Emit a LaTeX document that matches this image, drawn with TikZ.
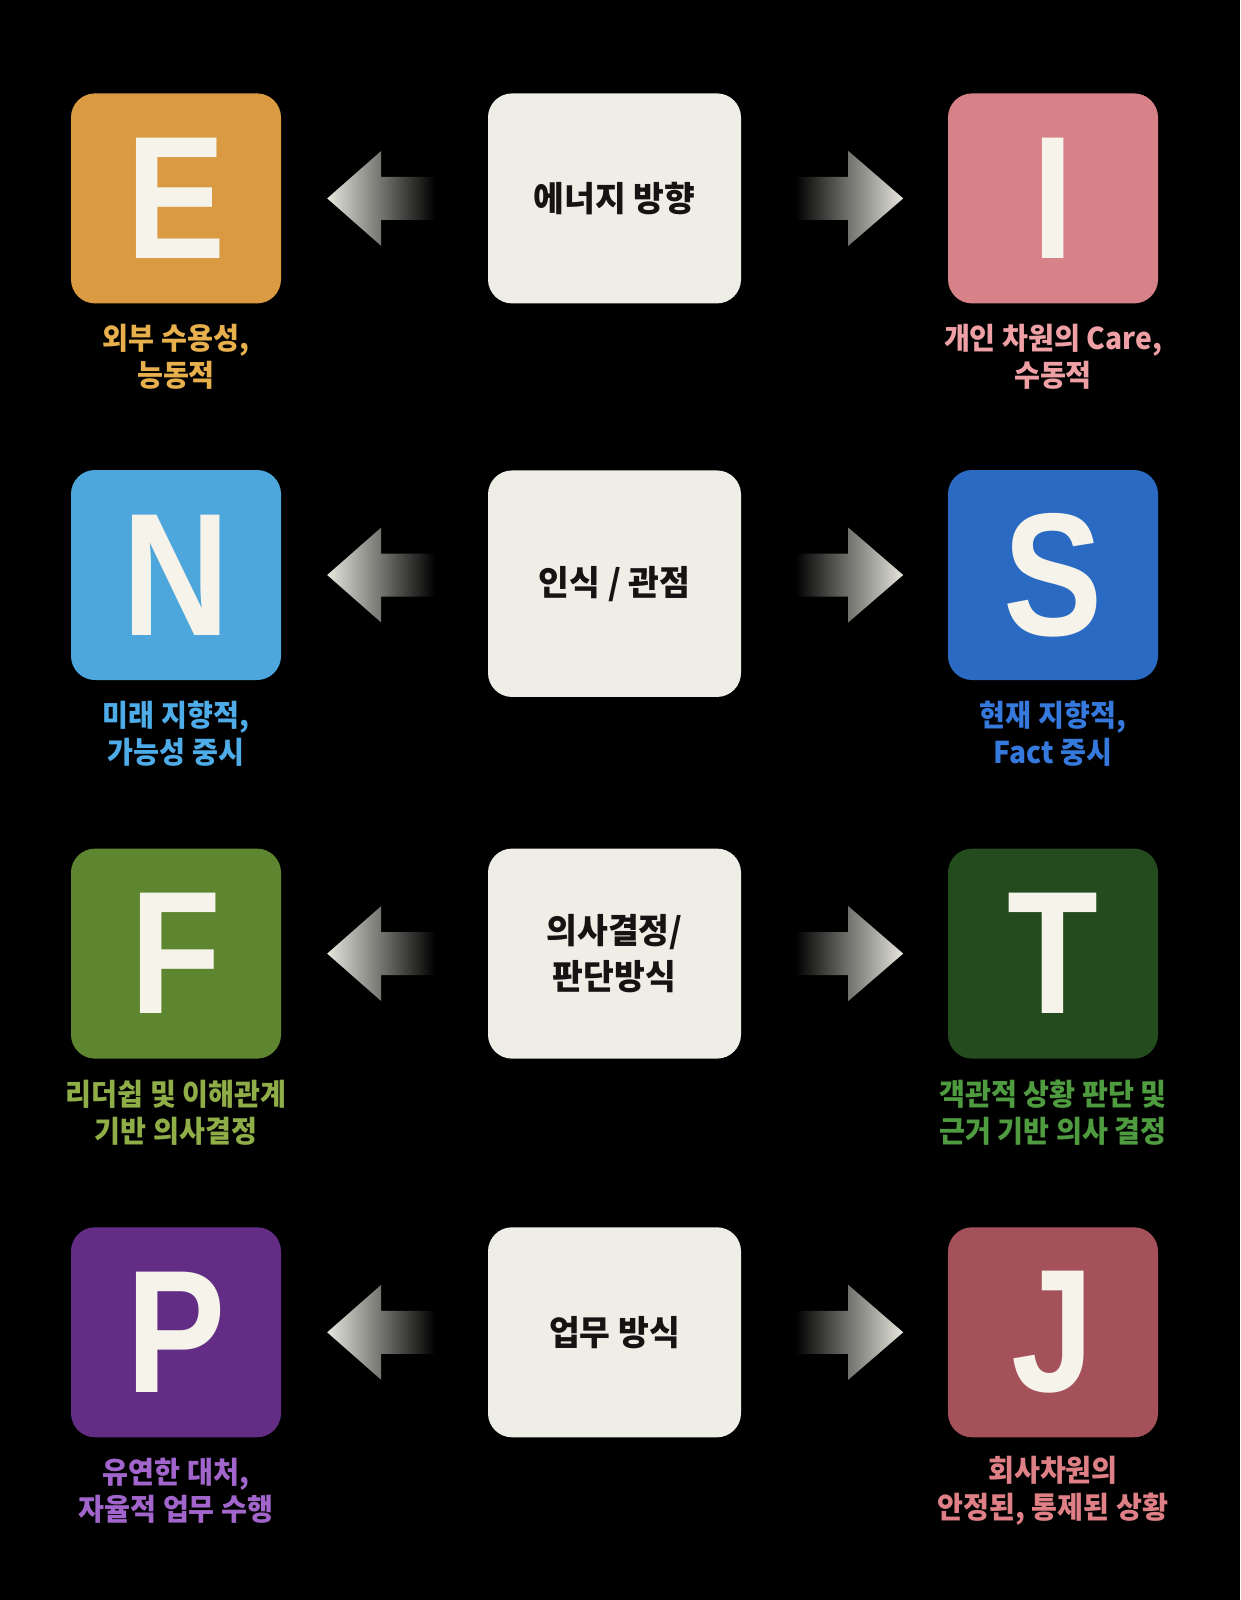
\documentclass[tikz,border=0pt]{standalone}
\usepackage{fontspec}
\usetikzlibrary{calc}
\newfontfamily\kr[FakeStretch=0.94]{Noto Sans CJK KR}
\newfontfamily\krc[FakeStretch=0.97]{Noto Sans CJK KR}
\newfontfamily\letterfont[FakeStretch=0.85]{Liberation Sans}
\definecolor{cream}{HTML}{F5F3EA}
\definecolor{boxgray}{HTML}{EEEDE6}
\definecolor{arrlight}{HTML}{E6E6DE}
\definecolor{ctext}{HTML}{161412}
\definecolor{eBoxC}{HTML}{DA9A41}\definecolor{eLabC}{HTML}{E8B04C}
\definecolor{iBoxC}{HTML}{D78288}\definecolor{iLabC}{HTML}{EFA0A5}
\definecolor{nBoxC}{HTML}{4EA7DC}\definecolor{nLabC}{HTML}{4EACE8}
\definecolor{sBoxC}{HTML}{2A6AC3}\definecolor{sLabC}{HTML}{3679DC}
\definecolor{fBoxC}{HTML}{5E8630}\definecolor{fLabC}{HTML}{90AE48}
\definecolor{tBoxC}{HTML}{234B1E}\definecolor{tLabC}{HTML}{4F9B3F}
\definecolor{pBoxC}{HTML}{632D85}\definecolor{pLabC}{HTML}{A265CC}
\definecolor{jBoxC}{HTML}{A4515A}\definecolor{jLabC}{HTML}{DF8087}
\tikzset{
  letterbox/.style={rectangle, rounded corners=24, minimum width=210, minimum height=210, inner sep=0, text=cream, font=\letterfont\bfseries\fontsize{175}{175}\selectfont},
  centerbox/.style={rectangle, rounded corners=24, fill=boxgray, minimum width=253, minimum height=210, inner sep=0, align=center, text=ctext, font=\krc\bfseries\fontsize{34.5}{46}\selectfont},
  label/.style={align=center, inner sep=0, font=\kr\bfseries\fontsize{30}{37}\selectfont},
  arrL/.style={left color=arrlight, right color=black},
  arrR/.style={left color=black, right color=arrlight}
}
\newcommand\leftblockarrow[1]{%
  \shade[arrL, shift={#1}] (0,0) -- (54,-47.5) -- (54,-21.5) -- (108,-21.5) -- (108,21.5) -- (54,21.5) -- (54,47.5) -- cycle;}
\newcommand\rightblockarrow[1]{%
  \shade[arrR, shift={#1}] (0,-21.5) -- (53,-21.5) -- (53,-47.5) -- (108,0) -- (53,47.5) -- (53,21.5) -- (0,21.5) -- cycle;}
\begin{document}
\begin{tikzpicture}[x=1pt,y=-1pt]
\fill[black] (0,0) rectangle (1240,1600);
\useasboundingbox (0,0) rectangle (1240,1600);

% Row 1
\node[letterbox, fill=eBoxC] (e) at (176,198.4) {E};
\node[centerbox] (c1) at (614.5,198.4) {에너지 방향};
\node[letterbox, fill=iBoxC] (i) at (1053,198.4) {I};
\node[label, text=eLabC] (eLab) at (176,357.2) {외부 수용성,\\능동적};
\node[label, text=iLabC] (iLab) at (1053,357.2) {개인 차원의 Care,\\수동적};
\leftblockarrow{($(e.east)+(46,0)$)}
\rightblockarrow{($(c1.east)+(54,0)$)}

% Row 2
\node[letterbox, fill=nBoxC] (n) at (176,575) {N};
\node[centerbox, minimum height=226.5] (c2) at (614.5,583.7) {인식 / 관점};
\node[letterbox, fill=sBoxC] (s) at (1053,575) {S};
\node[label, text=nLabC] (nLab) at (176,733.8) {미래 지향적,\\가능성 중시};
\node[label, text=sLabC] (sLab) at (1053,733.8) {현재 지향적,\\Fact 중시};
\leftblockarrow{($(n.east)+(46,0)$)}
\rightblockarrow{($(c1.east|-s.west)+(54,0)$)}

% Row 3
\node[letterbox, fill=fBoxC] (f) at (176,953.6) {F};
\node[centerbox] (c3) at (614.5,953.6) {의사결정/\\판단방식};
\node[letterbox, fill=tBoxC] (t) at (1053,953.6) {T};
\node[label, text=fLabC] (fLab) at (176,1112.4) {리더쉽 및 이해관계\\기반 의사결정};
\node[label, text=tLabC] (tLab) at (1053,1112.4) {객관적 상황 판단 및\\근거 기반 의사 결정};
\leftblockarrow{($(f.east)+(46,0)$)}
\rightblockarrow{($(c3.east)+(54,0)$)}

% Row 4
\node[letterbox, fill=pBoxC] (p) at (176,1332.3) {P};
\node[centerbox] (c4) at (614.5,1332.3) {업무 방식};
\node[letterbox, fill=jBoxC] (j) at (1053,1332.3) {J};
\node[label, text=pLabC] (pLab) at (176,1491.1) {유연한 대처,\\자율적 업무 수행};
\node[label, text=jLabC] (jLab) at (1053,1491.1) {회사차원의\\안정된, 통제된 상황};
\leftblockarrow{($(p.east)+(46,0)$)}
\rightblockarrow{($(c4.east)+(54,0)$)}
\end{tikzpicture}
\end{document}
